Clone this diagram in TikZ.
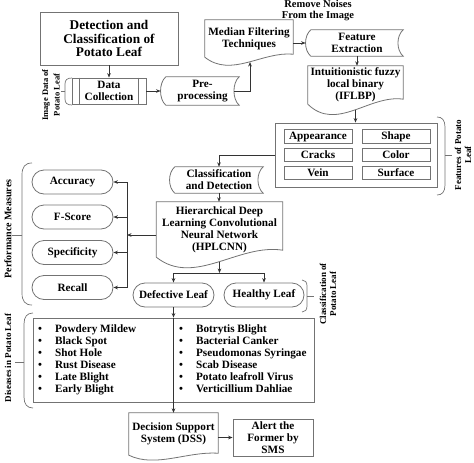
\documentclass[tikz,border=0pt]{standalone}
\usepackage{fontspec}
\setmainfont{Liberation Serif}
\usetikzlibrary{arrows.meta,calc}
\tikzset{
  box/.style={draw=black!55, line width=0.8pt},
  ln/.style={draw=black!80, line width=0.7pt},
  brc/.style={draw=black!55, line width=0.7pt},
  arr/.style={draw=black!80, line width=0.7pt, -{Stealth[length=4.5pt,width=3.6pt]}},
  txt/.style={font=\bfseries\fontsize{11.2}{12}\selectfont, align=center, inner sep=0pt},
  lab/.style={font=\bfseries\fontsize{9}{10}\selectfont, align=center, inner sep=0pt},
  stad/.style={txt, box, rounded corners=12pt, minimum height=24pt},
  feat/.style={txt, box, minimum width=68pt, minimum height=13.5pt},
}
\newcommand\docwave[3]{%
  \draw[box] (#1.north west) -- (#1.north east) -- ($(#1.south east)+(0,-#3)$)
    .. controls ($(#1.south west)!0.65!(#1.south east)+(0,-2*#3)$)
    and ($(#1.south west)!0.3!(#1.south east)+(0,#2)$) .. (#1.south west) -- cycle;}
\newcommand\storedpath[1]{%
  \draw[box] (#1.north west) -- (#1.north east) .. controls +(-7,6) and +(-7,-6) .. (#1.south east)
    -- (#1.south west) .. controls +(-7,-6) and +(-7,6) .. (#1.north west) -- cycle;}
\begin{document}
\begin{tikzpicture}[x=1pt,y=-1pt]
\useasboundingbox (0,0) rectangle (474,463);

% ---- nodes
\node[txt, box, font=\bfseries\fontsize{13.3}{13.5}\selectfont, minimum width=138pt, minimum height=53pt] (title) at (109,38.5) {Detection and\\Classification of\\Potato Leaf};
\node[txt, box, minimum width=74pt, minimum height=26pt] (dc) at (109,91) {Data\\Collection};
\draw[box] ([xshift=8pt]dc.north west) -- ([xshift=8pt]dc.south west);
\draw[box] ([xshift=-8pt]dc.north east) -- ([xshift=-8pt]dc.south east);

\node[txt, minimum width=73pt, minimum height=28pt] (prep) at (202.5,91) {Pre-\\processing};
\storedpath{prep}

\node[txt, minimum width=88pt, minimum height=37pt] (med) at (249,38.5) {Median Filtering\\Techniques};
\docwave{med}{21}{3}

\node[txt, minimum width=92pt, minimum height=26pt] (feat) at (357,43) {Feature\\Extraction};
\storedpath{feat}

\node[txt, minimum width=95pt, minimum height=38pt] (iflbp) at (355.5,85) {Intuitionistic fuzzy\\local binary\\(IFLBP)};
\docwave{iflbp}{28}{5}

\node[box, minimum width=162pt, minimum height=64pt] (fb) at (356,155) {};
\node[feat] (app) at (318,136.5) {Appearance};
\node[feat] (shp) at (396,136.5) {Shape};
\node[feat] (crk) at (318,155) {Cracks};
\node[feat] (col) at (396,155) {Color};
\node[feat] (vein) at (318,173) {Vein};
\node[feat] (surf) at (396,173) {Surface};

\node[txt, minimum width=88pt, minimum height=26pt] (cls) at (219,180) {Classification\\and Detection};
\storedpath{cls}

\node[txt, minimum width=126pt, minimum height=55pt] (hpl) at (219.5,229.5) {Hierarchical Deep\\Learning Convolutional\\Neural Network\\(HPLCNN)};
\docwave{hpl}{30}{7}

\node[stad, minimum width=81pt] (acc) at (72.5,182) {Accuracy};
\node[stad, minimum width=81pt] (fsc) at (72.5,217) {F-Score};
\node[stad, minimum width=81pt] (spe) at (72.5,252.5) {Specificity};
\node[stad, minimum width=81pt] (rec) at (72.5,287.5) {Recall};

\node[stad, minimum width=81pt] (def) at (173.5,295) {Defective Leaf};
\node[stad, minimum width=80pt] (hea) at (264,295) {Healthy Leaf};

\node[box, minimum width=281pt, minimum height=84pt] (dis) at (173.5,360) {};
\node[txt, anchor=west] (dl) at (38,360.5) {\begin{tabular}{@{}l@{\hspace{13pt}}l@{}}
\textbullet & Powdery Mildew\\
\textbullet & Black Spot\\
\textbullet & Shot Hole\\
\textbullet & Rust Disease\\
\textbullet & Late Blight\\
\textbullet & Early Blight
\end{tabular}};
\node[txt, anchor=west] (dr) at (179,360.5) {\begin{tabular}{@{}l@{\hspace{13pt}}l@{}}
\textbullet & Botrytis Blight\\
\textbullet & Bacterial Canker\\
\textbullet & Pseudomonas Syringae\\
\textbullet & Scab Disease\\
\textbullet & Potato leafroll Virus\\
\textbullet & Verticillium Dahliae
\end{tabular}};

\node[txt, minimum width=89pt, minimum height=42pt] (dss) at (173.5,434) {Decision Support\\System (DSS)};
\docwave{dss}{13}{2}

\node[txt, box, minimum width=80pt, minimum height=37pt] (alert) at (273,437.5) {Alert the\\Former by\\SMS};

% ---- labels
\node[txt, font=\bfseries\fontsize{10.5}{11}\selectfont] (rn) at (318,11) {Remove Noises\\From the Image};
\node[lab, font=\bfseries\fontsize{8.5}{11.5}\selectfont, rotate=90] (imgl) at (51,95) {Image Data of\\Potato Leaf};
\node[lab, font=\bfseries\fontsize{10}{11}\selectfont, rotate=90] (perf) at (8,229) {Performance Measures};
\node[lab, rotate=90] (disl) at (8,358) {Diseases in Potato Leaf};
\node[lab, rotate=90] (featl) at (463,155) {Features of Potato\\Leaf};
\node[lab, rotate=90] (clsl) at (328,294) {Classification of\\Potato Leaf};

% ---- braces
\draw[brc] (72,78) .. controls (67,78) and (65,80) .. (65,84) -- (65,99) .. controls (65,103) and (67,105) .. (72,105);
\draw[brc] (65,91) -- (61,91);
\draw[brc] (32,163) .. controls (25,163) and (22,167) .. (22,175) -- (22,293) .. controls (22,301) and (25,305) .. (32,305);
\draw[brc] (22,235) -- (12,235);
\draw[brc] (33,313) .. controls (27,313) and (24,317) .. (24,324) -- (24,397) .. controls (24,404) and (27,408) .. (33,408);
\draw[brc] (24,362) -- (15,362);
\draw[brc] (437,117) .. controls (442,117) and (445,120) .. (445,127) -- (445,185) .. controls (445,192) and (442,195) .. (437,195);
\draw[brc] (445,155) -- (452,155);
\draw[brc] (302,280) .. controls (305,280) and (307,282) .. (307,286) -- (307,306) .. controls (307,310) and (305,312) .. (302,312);
\draw[brc] (307,296) -- (314,296);

% ---- connectors
\draw[arr] (title.south) -- (dc.north);
\draw[arr] (dc.east) -- ($(prep.west)+(-5.25,0)$);
\draw[arr] ($(prep.east)+(-5.25,0)$) -| ($(med.south)+(1,4.8)$);
\draw[arr] (med.east |- feat.west) -- ($(feat.west)+(-5.25,0)$);
\draw[arr] (feat.south) -- (feat.south |- iflbp.north);
\draw[arr] ($(iflbp.south)+(0,5.4)$) -- (iflbp.south |- fb.north);
\draw[arr] (fb.west) -| (cls.north);
\draw[arr] (cls.south) -- (cls.south |- hpl.north);

\coordinate (bus) at (127,235);
\draw[arr] (bus -| hpl.west) -- (bus);
\draw[ln] (acc.east -| bus) -- (rec.east -| bus);
\foreach \n in {acc,fsc,spe,rec} \draw[arr] (\n.east -| bus) -- (\n.east);

\coordinate (split) at (219.5,273);
\draw[arr] ($(hpl.south)+(0,4.3)$) -- (split);
\draw[ln] (def.north |- split) -- (hea.north |- split);
\draw[arr] (def.north |- split) -- (def.north);
\draw[arr] (hea.north |- split) -- (hea.north);

\draw[arr] (def.south) -- (def.south |- dis.north);
\draw[ln] (def.south |- dis.north) -- (def.south |- dis.south);
\draw[arr] (def.south |- dis.south) -- (dss.north);
\draw[arr] (dss.east |- alert.west) -- (alert.west);
\end{tikzpicture}
\end{document}
